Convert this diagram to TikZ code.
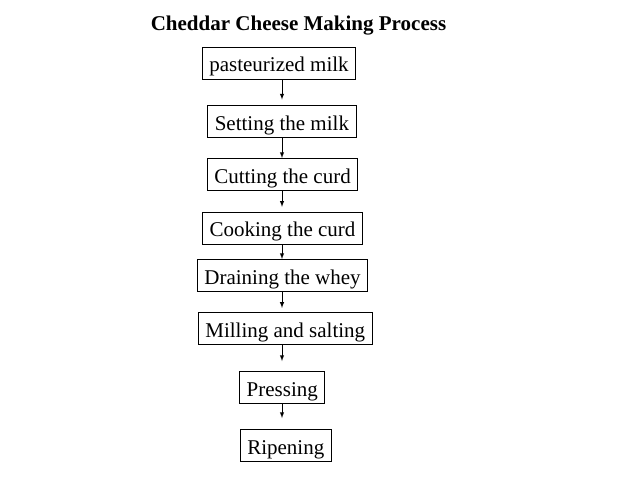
\documentclass[tikz,border=0pt]{standalone}
\usepackage{fontspec}
\setmainfont{Liberation Serif}
\usetikzlibrary{arrows}

\begin{document}
\begin{tikzpicture}[x=1pt,y=-1pt,every node/.style={font=\fontsize{21}{25}\selectfont},
  stage/.style={draw,line width=0.9pt,inner xsep=7pt,inner ysep=0pt,text height=24.5pt,
    text depth=7.5pt},
  flow/.style={-latex,line width=1pt}]

  \useasboundingbox (0,0) rectangle (638,479);

  % column of the arrows
  \coordinate (ax) at (282,0);

  \node[anchor=base,font=\fontsize{21}{25}\selectfont\bfseries] (title) at (298.5,30.7)
  {Cheddar Cheese Making Process};

  \node[stage] (s1) at (279,63.2) {pasteurized milk};
  \node[stage] (s2) at (281.9,121.5) {Setting the milk};
  \node[stage] (s3) at (282.5,174.5) {Cutting the curd};
  \node[stage] (s4) at (282.5,228) {Cooking the curd};
  \node[stage] (s5) at (282.5,275.5) {Draining the whey};
  \node[stage] (s6) at (285.3,328.8) {Milling and salting};
  \node[stage] (s7) at (282.3,387.5) {Pressing};
  \node[stage] (s8) at (285.8,445.5) {Ripening};

  % arrows
  \draw[flow,shorten >=5.5pt] (s1.south -| ax) -- (s2.north -| ax);
  \draw[flow] (s2.south -| ax) -- (s3.north -| ax);
  \draw[flow,shorten >=4.7pt] (s3.south -| ax) -- (s4.north -| ax);
  \draw[flow] (s4.south -| ax) -- (s5.north -| ax);
  \draw[flow,shorten >=4.4pt] (s5.south -| ax) -- (s6.north -| ax);
  \draw[flow,shorten >=10pt] (s6.south -| ax) -- (s7.north -| ax);
  \draw[flow,shorten >=11pt] (s7.south -| ax) -- (s8.north -| ax);

\end{tikzpicture}
\end{document}
